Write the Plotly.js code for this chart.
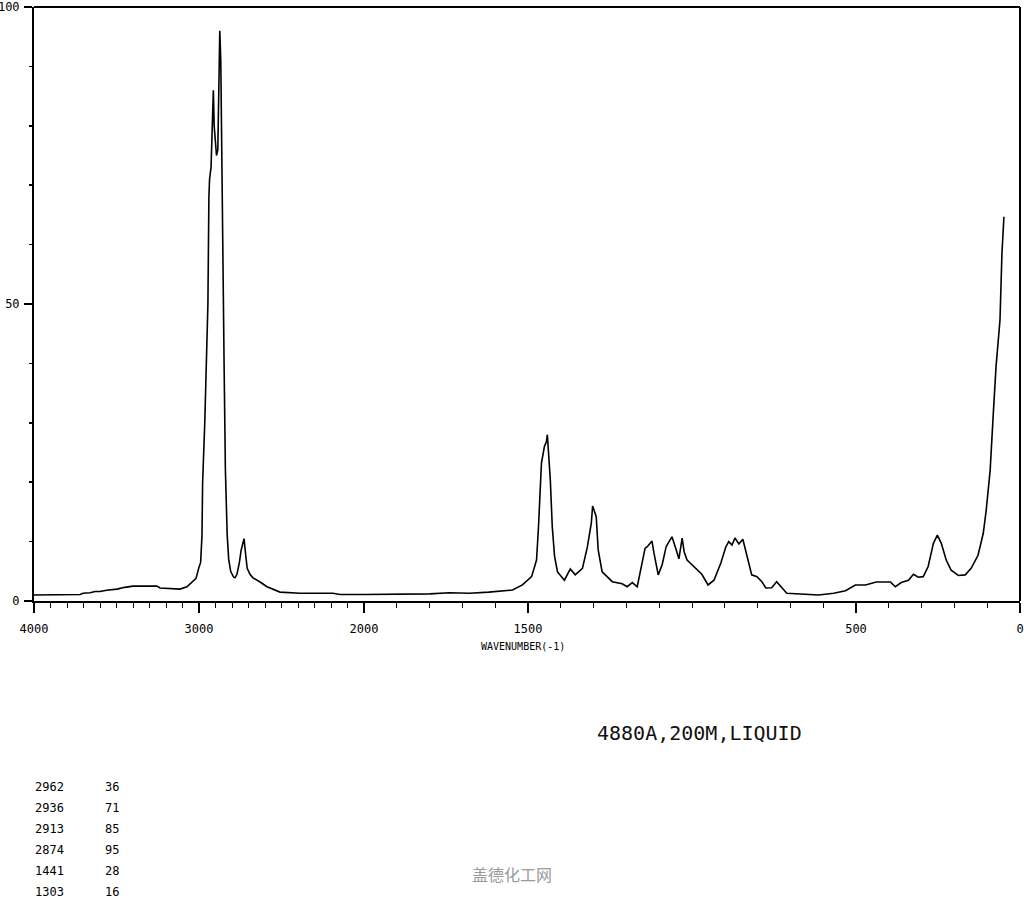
<!DOCTYPE html>
<html><head><meta charset="utf-8">
<script src="https://cdn.plot.ly/plotly-3.0.1.min.js"></script>
<style>body{margin:0;background:#fff}#chart{width:1024px;height:900px}</style>
</head><body><div id="chart"></div>
<script>
// Raman spectrum: wavenumber (cm-1) and relative intensity
const wavenumber = [4000,3900,3800,3720,3703,3660,3630,3600,3560,3497,3450,3400,3300,3255,3236,3115,3073,3036,3018,3000,
  2990,2982,2978,2965,2961,2955,2946,2940,2936,2927,2920,2913,2908,2900,2894,2886,2880,2874,2868,2862,2858,2853,2848,2840,2834,
  2829,2820,2808,2790,2782,2770,2755,2745,2733,2727,2718,2708,2691,2673,2630,2588,2509,2388,2250,2188,2145,2000,
  1891,1850,1799,1740,1678,1620,1587,1547,1517,1489,1474,1468,1459,1450,1444,1441,1432,1426,1419,1410,1389,1371,1356,1334,1319,1307,
  1303,1292,1286,1274,1243,1213,1198,1182,1167,1161,1143,1137,1122,1116,1103,1091,1079,1070,1061,1049,1040,1030,1024,1015,988,970,
  951,933,912,897,888,878,869,857,845,833,818,802,787,775,757,742,729,711,614,568,532,502,471,438,395,380,362,340,325,310,295,280,
  264,252,240,225,210,188,167,149,128,112,103,91,82,73,61,55,49];
const intensity = [1.0,1.0,1.0,1.1,1.3,1.4,1.6,1.6,1.8,2.0,2.3,2.5,2.5,2.5,2.2,2.0,2.4,3.3,3.8,5.7,
  6.5,11,20,30,35,40,50,68,71,73,82,86,80,76,75,76,88,96,91,72,64,52,40,22,15,
  11,7,5,4,3.9,4.5,6.5,8.5,10.2,10.5,8,5.5,4.5,3.9,3.2,2.4,1.5,1.3,1.3,1.3,1.1,1.1,
  1.1,1.2,1.2,1.4,1.3,1.5,1.7,1.85,2.7,4.1,6.9,12.5,23.2,26,26.8,28,20.4,12.5,7.5,4.9,3.5,5.4,4.4,5.5,9.1,13.1,
  16,14.2,8.6,4.9,3.25,2.9,2.4,3.1,2.4,4.1,8.9,9.1,10.1,8.1,4.4,6.1,9.1,10.0,10.8,8.75,7.1,10.6,8.3,6.9,5.5,4.5,
  2.7,3.5,6.4,9.1,10,9.4,10.6,9.6,10.4,7.5,4.4,4.1,3.25,2.2,2.24,3.25,2.4,1.3,1.0,1.3,1.74,2.7,2.7,3.2,3.2,2.4,3.1,3.5,4.5,4.0,4.1,5.8,
  9.7,11.1,9.7,6.9,5.2,4.3,4.4,5.5,7.7,11.4,15.3,22,31,39.5,47.3,58.6,64.7];

const xTicksHigh = [4000, 3000, 2000];
const xTicksLow = [1500, 500, 0];
const yTicks = [0, 50, 100];
const peakWavenumbers = [2962, 2936, 2913, 2874, 1441, 1303];
const peakIntensities = [36, 71, 85, 95, 28, 16];
const axisLabel = 'WAVENUMBER(-1)';
const sampleLabel = '4880A,200M,LIQUID';
const watermark = '盖德化工网';

const hi = {x: [], y: []}, lo = {x: [], y: []};
wavenumber.forEach((w, i) => {
  if (w >= 2000) { hi.x.push(w); hi.y.push(intensity[i]); }
  if (w <= 2000) { lo.x.push(w); lo.y.push(intensity[i]); }
});

const mono = 'DejaVu Sans Mono, monospace';
const lineStyle = {color: '#000', width: 1.6};
const traces = [
  {x: hi.x, y: hi.y, xaxis: 'x', yaxis: 'y', type: 'scatter', mode: 'lines', line: lineStyle, hoverinfo: 'skip'},
  {x: lo.x, y: lo.y, xaxis: 'x2', yaxis: 'y', type: 'scatter', mode: 'lines', line: lineStyle, hoverinfo: 'skip'}
];

const split = (364 - 34) / 986;
function xAxis(domain, range, ticks) {
  return {
    domain: domain, range: range, anchor: 'y',
    tickmode: 'array', tickvals: ticks, ticktext: ticks.map(String),
    ticks: 'outside', ticklen: 10, tickwidth: 1.6, tickcolor: '#000',
    minor: {tickmode: 'linear', tick0: 0, dtick: 100, ticks: 'outside', ticklen: 5, tickwidth: 1, tickcolor: '#000', showgrid: false},
    showline: true, linecolor: '#000', linewidth: 2,
    showgrid: false, zeroline: false,
    tickfont: {family: mono, size: 12, color: '#000'},
    ticklabelstandoff: 6
  };
}

const annotations = [];
const px = x => (x - 34) / 986;
const py = y => (601 - y) / 594;
annotations.push({xref: 'paper', yref: 'paper', x: px(523), y: py(646), text: axisLabel, showarrow: false,
  xanchor: 'center', yanchor: 'middle', font: {family: mono, size: 10, color: '#000'}});
annotations.push({xref: 'paper', yref: 'paper', x: px(699), y: py(733), text: sampleLabel, showarrow: false,
  xanchor: 'center', yanchor: 'middle', font: {family: mono, size: 20, color: '#111'}});
peakWavenumbers.forEach((w, i) => {
  const yy = 787 + 21 * i;
  annotations.push({xref: 'paper', yref: 'paper', x: px(33), y: py(yy), text: String(w), showarrow: false,
    xanchor: 'left', yanchor: 'middle', font: {family: mono, size: 12, color: '#000'}});
  annotations.push({xref: 'paper', yref: 'paper', x: px(121), y: py(yy), text: String(peakIntensities[i]), showarrow: false,
    xanchor: 'right', yanchor: 'middle', font: {family: mono, size: 12, color: '#000'}});
});
annotations.push({xref: 'paper', yref: 'paper', x: px(512), y: py(874), text: watermark, showarrow: false,
  xanchor: 'center', yanchor: 'middle', font: {family: 'Noto Sans CJK SC, sans-serif', size: 16, color: '#9a9a9a'}});

const layout = {
  width: 1024, height: 900,
  margin: {l: 34, r: 4, t: 7, b: 299, pad: 0},
  paper_bgcolor: '#fff', plot_bgcolor: '#fff',
  showlegend: false,
  xaxis: xAxis([0, split], [4000, 2000], xTicksHigh),
  xaxis2: xAxis([split, 1], [2000, 0], xTicksLow),
  yaxis: {
    domain: [0, 1], range: [0, 100], anchor: 'x',
    tickmode: 'array', tickvals: yTicks, ticktext: yTicks.map(String),
    ticks: 'outside', ticklen: 8, tickwidth: 1.6, tickcolor: '#000',
    minor: {tickmode: 'linear', tick0: 0, dtick: 10, ticks: 'outside', ticklen: 3, tickwidth: 1.5, tickcolor: '#000', showgrid: false},
    showline: true, linecolor: '#000', linewidth: 2,
    showgrid: false, zeroline: false,
    tickfont: {family: mono, size: 12, color: '#000'},
    ticklabelstandoff: 2
  },
  shapes: [
    {type: 'line', xref: 'paper', yref: 'paper', x0: 0, x1: 1, y0: 1, y1: 1, line: {color: '#000', width: 2}},
    {type: 'line', xref: 'paper', yref: 'paper', x0: 1, x1: 1, y0: 0, y1: 1, line: {color: '#000', width: 2}}
  ],
  annotations: annotations
};

Plotly.newPlot('chart', traces, layout, {displayModeBar: false, staticPlot: true});
</script>
</body></html>
